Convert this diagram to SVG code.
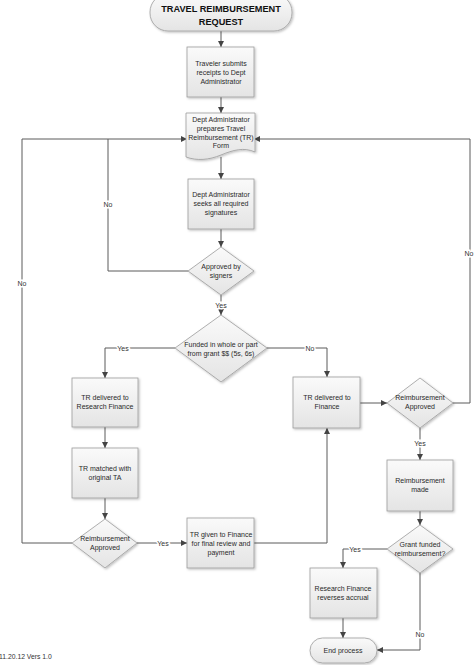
<svg xmlns="http://www.w3.org/2000/svg" width="474" height="665" viewBox="0 0 474 665">
<style>
.n{fill:url(#g);stroke:#9c9c9c;stroke-width:0.8;filter:url(#sh)}
.t{font-family:"Liberation Sans",Arial,sans-serif;font-size:7px;fill:#2a2a2a;text-anchor:middle}
.tb{font-family:"Liberation Sans",Arial,sans-serif;font-size:9.2px;font-weight:bold;fill:#111;text-anchor:middle}
.c{fill:none;stroke:#5a5a5a;stroke-width:1}
.l{font-family:"Liberation Sans",Arial,sans-serif;font-size:7px;fill:#333;text-anchor:middle;stroke:#fff;stroke-width:3;paint-order:stroke}
</style>
<defs>
<linearGradient id="g" x1="0" y1="0" x2="0" y2="1"><stop offset="0" stop-color="#fafafa"/><stop offset="1" stop-color="#e4e4e4"/></linearGradient>
<filter id="sh" x="-10%" y="-10%" width="130%" height="130%"><feDropShadow dx="1.2" dy="1.2" stdDeviation="0.8" flood-color="#000" flood-opacity="0.25"/></filter>
<marker id="a" markerUnits="userSpaceOnUse" markerWidth="7" markerHeight="6" refX="6" refY="3" orient="auto"><path d="M0,0 L6,3 L0,6 Z" fill="#444"/></marker>
</defs>
<rect width="474" height="665" fill="#fff"/>
<g id="connectors">
<path class="c" d="M221,31 V47" marker-end="url(#a)"/>
<path class="c" d="M221,97 V113" marker-end="url(#a)"/>
<path class="c" d="M221,157 V179" marker-end="url(#a)"/>
<path class="c" d="M221,229 V247" marker-end="url(#a)"/>
<path class="c" d="M221,295 V315" marker-end="url(#a)"/>
<path class="c" d="M188,271 H108 V139"/>
<path class="c" d="M72,543 H22 V139 H187" marker-end="url(#a)"/>
<path class="c" d="M175,348 H105 V378" marker-end="url(#a)"/>
<path class="c" d="M267,348 H327 V377" marker-end="url(#a)"/>
<path class="c" d="M105,427 V448" marker-end="url(#a)"/>
<path class="c" d="M105,498 V519" marker-end="url(#a)"/>
<path class="c" d="M137,543 H187" marker-end="url(#a)"/>
<path class="c" d="M254,543 H327 V428" marker-end="url(#a)"/>
<path class="c" d="M360,403 H387" marker-end="url(#a)"/>
<path class="c" d="M453,403 H470 V139 H254" marker-end="url(#a)"/>
<path class="c" d="M420,428 V460" marker-end="url(#a)"/>
<path class="c" d="M420,511 V525" marker-end="url(#a)"/>
<path class="c" d="M387,549 H343 V568" marker-end="url(#a)"/>
<path class="c" d="M343,618 V638" marker-end="url(#a)"/>
<path class="c" d="M420,573 V650 H377" marker-end="url(#a)"/>
<text class="l" x="108" y="206.5">No</text>
<text class="l" x="22" y="285.5">No</text>
<text class="l" x="221" y="307.5">Yes</text>
<text class="l" x="123" y="350.5">Yes</text>
<text class="l" x="310" y="350.5">No</text>
<text class="l" x="163" y="545.5">Yes</text>
<text class="l" x="469" y="255.5">No</text>
<text class="l" x="420" y="445.5">Yes</text>
<text class="l" x="355" y="551.5">Yes</text>
<text class="l" x="420" y="636.5">No</text>
</g>
<g id="start">
<rect class="n" x="150" y="-6" width="142" height="37" rx="18"/>
<text class="tb" x="221" y="12">TRAVEL REIMBURSEMENT</text>
<text class="tb" x="221" y="25">REQUEST</text>
</g>
<g id="submit">
<rect class="n" x="187" y="47" width="67" height="50"/>
<text class="t" x="221" y="65.5">Traveler submits</text>
<text class="t" x="221" y="74.5">receipts to Dept</text>
<text class="t" x="221" y="83.5">Administrator</text>
</g>
<g id="prepare">
<path class="n" d="M186,113 H255 V152 C244,147 233,150 221,155 C209,160 197,161 186,157 Z"/>
<text class="t" x="221" y="121.5">Dept Administrator</text>
<text class="t" x="221" y="130.5">prepares Travel</text>
<text class="t" x="221" y="139.5">Reimbursement (TR)</text>
<text class="t" x="221" y="148">Form</text>
</g>
<g id="signatures">
<rect class="n" x="188" y="179" width="66" height="50"/>
<text class="t" x="221" y="197">Dept Administrator</text>
<text class="t" x="221" y="206">seeks all required</text>
<text class="t" x="221" y="215">signatures</text>
</g>
<g id="approved-signers">
<path class="n" d="M221,247 L254,271 L221,295 L188,271 Z"/>
<text class="t" x="221" y="268.5">Approved by</text>
<text class="t" x="221" y="277.5">signers</text>
</g>
<g id="funded">
<path class="n" d="M221,315 L267,348 L221,382 L175,348 Z"/>
<text class="t" x="221" y="347">Funded in whole or part</text>
<text class="t" x="221" y="356">from grant $$ (5s, 6s)</text>
</g>
<g id="research-finance">
<rect class="n" x="72" y="378" width="66" height="49"/>
<text class="t" x="105" y="400">TR delivered to</text>
<text class="t" x="105" y="409">Research Finance</text>
</g>
<g id="matched">
<rect class="n" x="72" y="448" width="66" height="50"/>
<text class="t" x="105" y="471">TR matched with</text>
<text class="t" x="105" y="480">original TA</text>
</g>
<g id="approved-left">
<path class="n" d="M105,519 L137,543 L105,568 L72,543 Z"/>
<text class="t" x="105" y="541">Reimbursement</text>
<text class="t" x="105" y="550">Approved</text>
</g>
<g id="given">
<rect class="n" x="187" y="518" width="67" height="50"/>
<text class="t" x="221" y="537">TR given to Finance</text>
<text class="t" x="221" y="546">for final review and</text>
<text class="t" x="221" y="555">payment</text>
</g>
<g id="finance">
<rect class="n" x="293" y="377" width="67" height="51"/>
<text class="t" x="327" y="400">TR delivered to</text>
<text class="t" x="327" y="409">Finance</text>
</g>
<g id="approved-right">
<path class="n" d="M420,378 L453,403 L420,428 L387,403 Z"/>
<text class="t" x="420" y="400">Reimbursement</text>
<text class="t" x="420" y="409">Approved</text>
</g>
<g id="made">
<rect class="n" x="387" y="460" width="66" height="51"/>
<text class="t" x="420" y="483">Reimbursement</text>
<text class="t" x="420" y="492">made</text>
</g>
<g id="grant">
<path class="n" d="M420,525 L453,549 L420,573 L387,549 Z"/>
<text class="t" x="420" y="547">Grant funded</text>
<text class="t" x="420" y="556">reimbursement?</text>
</g>
<g id="reverses">
<rect class="n" x="310" y="568" width="67" height="50"/>
<text class="t" x="343" y="591">Research Finance</text>
<text class="t" x="343" y="600">reverses accrual</text>
</g>
<g id="end">
<rect class="n" x="310" y="638" width="67" height="25" rx="12.5"/>
<text class="t" x="343" y="653">End process</text>
</g>
<text x="-1" y="659" style="font-family:'Liberation Sans',Arial,sans-serif;font-size:6.8px;fill:#333">11.20.12 Vers 1.0</text>
</svg>
